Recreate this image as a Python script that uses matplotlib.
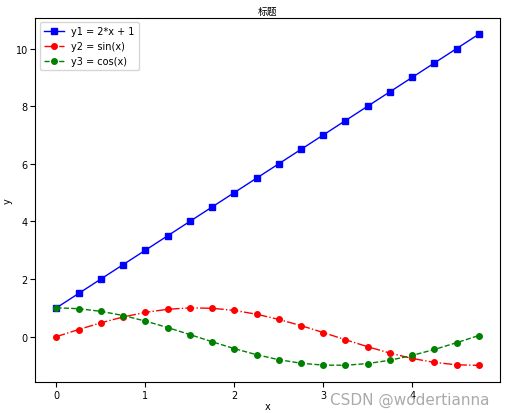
import matplotlib.pyplot as plt

plt.rcParams['font.family'] = ['DejaVu Sans', 'Noto Sans CJK SC']

# ── Data ──────────────────────────────────────────────────────────────────────
x = [0.0, 0.25, 0.5, 0.75, 1.0, 1.25, 1.5, 1.75, 2.0, 2.25,
     2.5, 2.75, 3.0, 3.25, 3.5, 3.75, 4.0, 4.25, 4.5, 4.75]
y1 = [1.0, 1.5, 2.0, 2.5, 3.0, 3.5, 4.0, 4.5, 5.0, 5.5,
      6.0, 6.5, 7.0, 7.5, 8.0, 8.5, 9.0, 9.5, 10.0, 10.5]
y2 = [0.0, 0.247, 0.479, 0.682, 0.841, 0.949, 0.997, 0.984, 0.909, 0.778,
      0.598, 0.382, 0.141, -0.108, -0.351, -0.572, -0.757, -0.895, -0.978, -0.999]
y3 = [1.0, 0.969, 0.878, 0.732, 0.540, 0.315, 0.071, -0.178, -0.416, -0.628,
      -0.801, -0.924, -0.990, -0.994, -0.936, -0.820, -0.654, -0.446, -0.211, 0.038]

# ── Figure ────────────────────────────────────────────────────────────────────
fig, ax = plt.subplots(figsize=(5.05, 4.14), dpi=100)
fig.subplots_adjust(left=0.07, right=0.99, top=0.955, bottom=0.045 + 0.0)

ax.plot(x, y1, 'b-', marker='s', markersize=4, linewidth=1, label='y1 = 2*x + 1')
ax.plot(x, y2, 'r-.', marker='o', markersize=4, linewidth=1, label='y2 = sin(x)')
ax.plot(x, y3, 'g--', marker='o', markersize=4, linewidth=1, label='y3 = cos(x)')

ax.set_title('标题', fontsize=7, pad=3)
ax.set_xlabel('x', fontsize=7, labelpad=1)
ax.set_ylabel('y', fontsize=7, labelpad=2)
ax.tick_params(labelsize=7, pad=2)
ax.legend(loc='upper left', fontsize=7)

fig.subplots_adjust(bottom=0.075)

fig.text(0.97, 0.015, 'CSDN @wodertianna', color='#aaaaaa', fontsize=11,
         ha='right', va='bottom')

plt.savefig('out.png', dpi=100)
